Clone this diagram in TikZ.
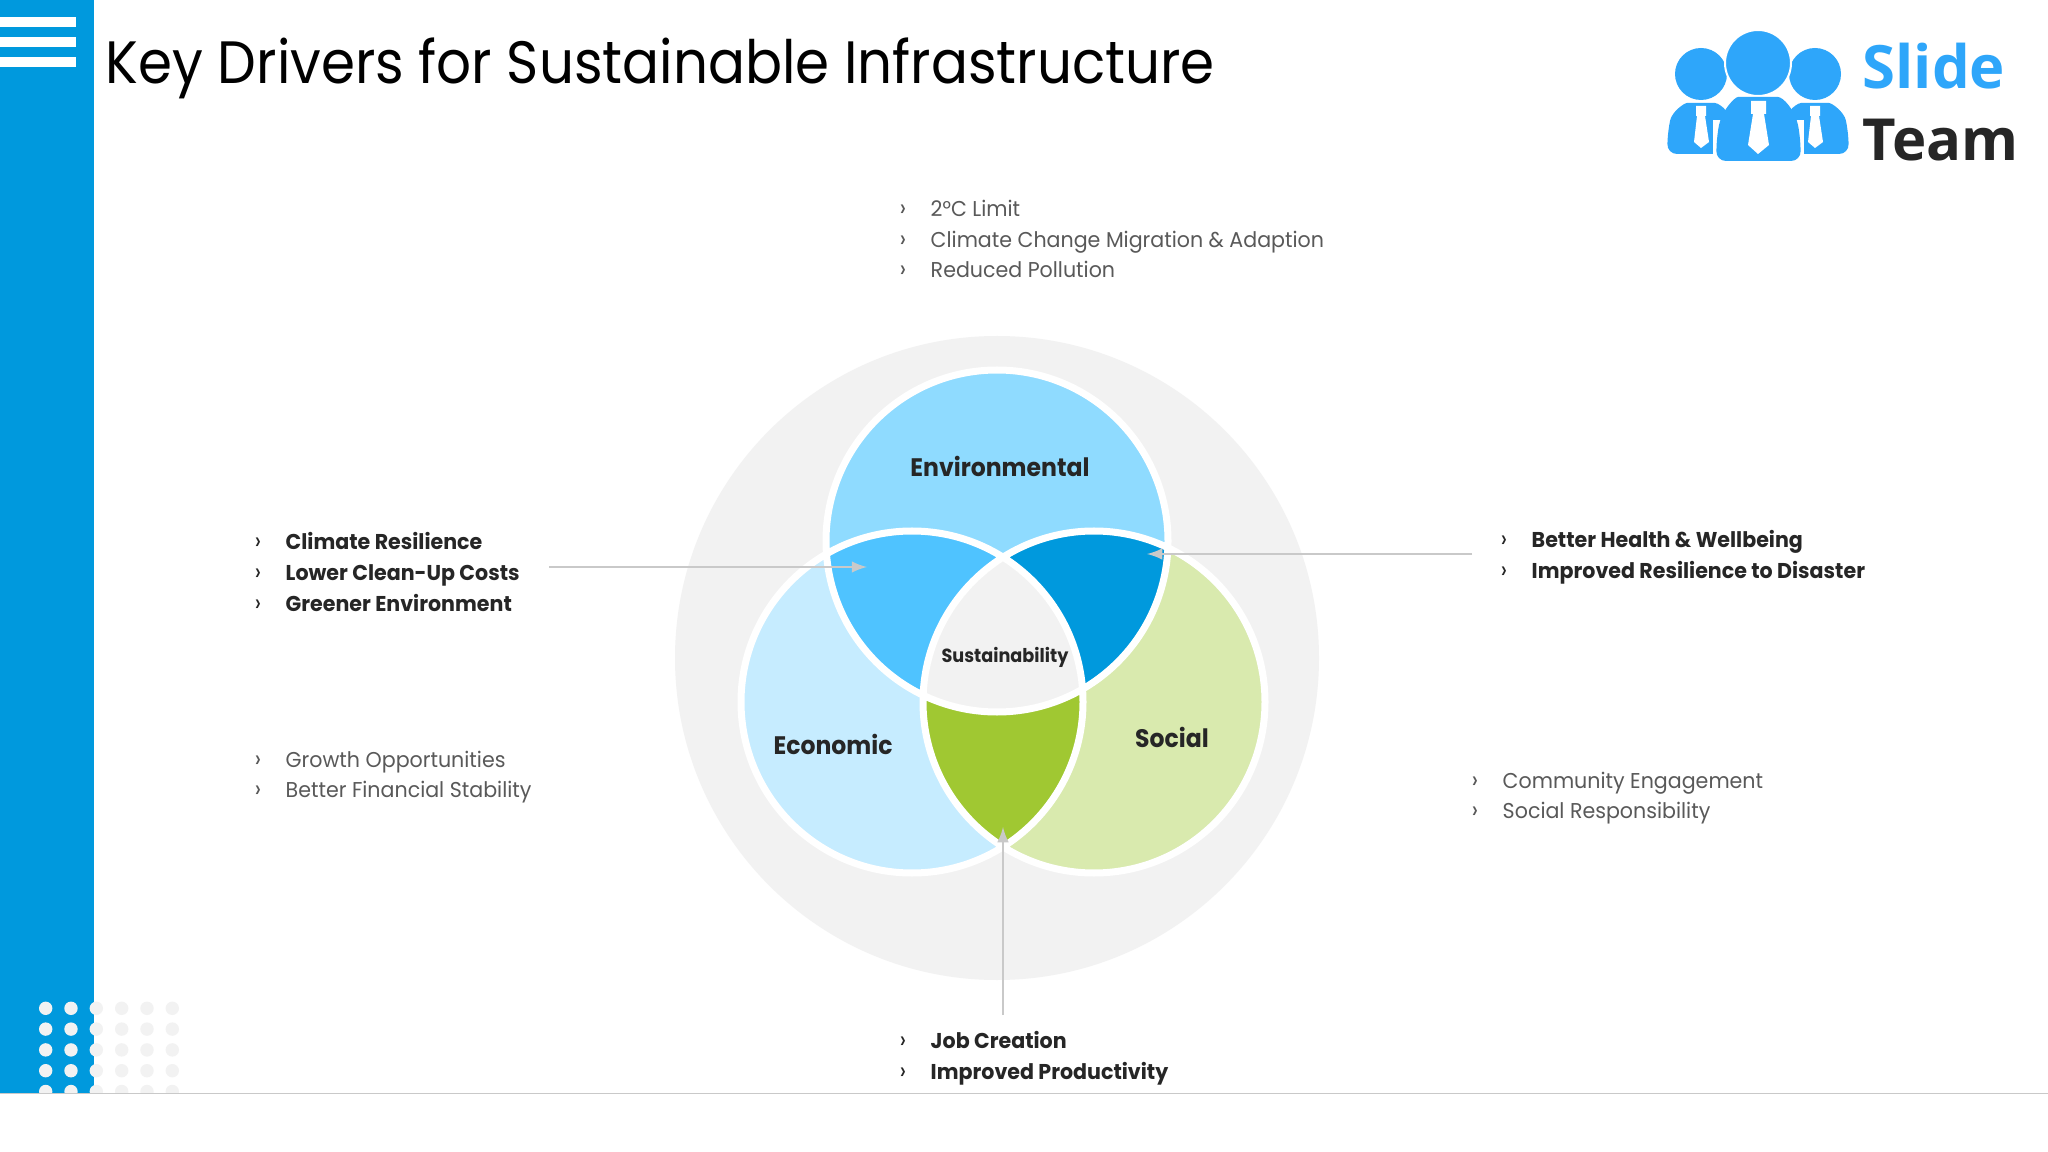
\documentclass[tikz,border=0pt]{standalone}
\usepackage{fontspec}
\setmainfont[FakeStretch=0.96]{Poppins}
\newfontfamily\titlefont[FakeStretch=0.916]{Poppins}
\newfontfamily\setfont[FakeStretch=0.93]{Poppins}
\newfontfamily\logofont{Open Sans}
\usetikzlibrary{arrows}

\definecolor{sideblue}{HTML}{0099DD}
\definecolor{envblue}{HTML}{8FDBFF}
\definecolor{ecoblue}{HTML}{C6ECFF}
\definecolor{socgreen}{HTML}{D9EAAE}
\definecolor{midblue}{HTML}{4FC3FF}
\definecolor{midgreen}{HTML}{A0C832}
\definecolor{softgray}{HTML}{F2F2F2}
\definecolor{linegray}{HTML}{C9C9C9}
\definecolor{logoblue}{HTML}{2EA6FA}

\newcommand{\itm}[1]{\makebox[0.32cm][l]{\hspace{0.01cm}\normalfont\fontsize{7pt}{8.73pt}\selectfont›}#1}

\begin{document}
\begin{tikzpicture}[x=0.01cm,y=-0.01cm,>=latex,
      list node/.style={anchor=west,inner sep=0pt,align=left,text=black!65,
        font=\fontsize{6.1pt}{8.73pt}\selectfont},
      bold node/.style={list node,text=black!85,font=\fontsize{6.1pt}{8.73pt}\selectfont\bfseries},
      set node/.style={inner sep=0pt,text=black!85,font=\setfont\fontsize{7.2pt}{9pt}\selectfont\bfseries},
      pointer/.style={->,draw=linegray,line width=0.018cm},
      ring/.style={draw=white,line width=0.07cm}]

      \useasboundingbox (0,0) rectangle (2048,1152);
      \fill[white] (0,0) rectangle (2048,1152);

      % side bar
      \fill[sideblue] (0,0) rectangle (94,1093);
      \foreach \y in {17,37,57}
        \fill[white] (0,\y) rectangle (76,\y+10);
      \begin{scope}
        \clip (0,900) rectangle (300,1093);
        \foreach \x in {45.7,71,96.3,121.7,147,172.3}
          \foreach \y in {1008.3,1029.1,1049.9,1070.7,1091.5}
            \fill[softgray] (\x,\y) circle (6.7);
      \end{scope}
      \draw[linegray,line width=0.012cm] (0,1093.5) -- (2048,1093.5);

      \node[anchor=base west,inner sep=0pt,font=\titlefont\fontsize{17pt}{20pt}\selectfont] (title)
        at (105,84) {Key Drivers for Sustainable Infrastructure};

      % logo
      \fill[logoblue] (1701,74) circle (26) (1815,74) circle (26);
      \fill[logoblue,rounded corners=0.1cm] (1667,154) -- (1668,130) .. controls (1672,112) and (1684,103) .. (1697,103)
        -- (1705,103) .. controls (1718,103) and (1724,108) .. (1730,118) -- (1730,154) -- cycle;
      \fill[logoblue,rounded corners=0.1cm] (1849,154) -- (1848,130) .. controls (1844,112) and (1832,103) .. (1819,103)
        -- (1811,103) .. controls (1798,103) and (1792,108) .. (1786,118) -- (1786,154) -- cycle;
      \fill[white] (1696,106) rectangle (1706,116) (1697,116) -- (1705,116) -- (1709,142) -- (1701,148) -- (1694,142) -- cycle;
      \fill[white] (1810,106) rectangle (1820,116) (1811,116) -- (1819,116) -- (1823,142) -- (1815,148) -- (1808,142) -- cycle;
      \draw[white,fill=logoblue,line width=0.02cm] (1758,63) circle (33);
      \fill[white] (1713,163) rectangle (1804,120);
      \fill[logoblue,rounded corners=0.1cm] (1716,161) -- (1717,135) .. controls (1722,110) and (1735,97) .. (1748,97)
        -- (1768,97) .. controls (1783,97) and (1795,110) .. (1800,135) -- (1801,161) -- cycle;
      \fill[white] (1751,101) rectangle (1766,114) (1753,114) -- (1764,114) -- (1769,145) -- (1758,154) -- (1748,145) -- cycle;
      \node[anchor=base west,inner sep=0pt,text=logoblue,font=\logofont\fontsize{17pt}{20pt}\selectfont\bfseries] (slide)
        at (1862,89) {Slide};
      \node[anchor=base west,inner sep=0pt,text=black!85,font=\logofont\fontsize{16.5pt}{20pt}\selectfont\bfseries] (team)
        at (1862,161) {Team};

      % venn
      \coordinate (env) at (997,541);
      \coordinate (eco) at (912,702);
      \coordinate (soc) at (1094,702);
      \fill[softgray] (997,658) circle (322);
      \fill[envblue] (env) circle (168);
      \fill[ecoblue] (eco) circle (168);
      \fill[socgreen] (soc) circle (168);
      \begin{scope}
        \clip (env) circle (168);
        \fill[midblue] (eco) circle (168);
        \fill[sideblue] (soc) circle (168);
      \end{scope}
      \begin{scope}
        \clip (eco) circle (168);
        \fill[midgreen] (soc) circle (168);
        \clip (soc) circle (168);
        \fill[softgray] (env) circle (168);
      \end{scope}
      \draw[ring] (env) circle (171) (eco) circle (171) (soc) circle (171);

      \node[set node] (environmental) at (1000,466) {Environmental};
      \node[set node] (economic) at (833,744) {Economic};
      \node[set node] (social) at (1172,737) {Social};
      \node[set node,font=\setfont\fontsize{5.4pt}{7pt}\selectfont\bfseries] (sustainability) at (1005,657) {Sustainability};

      % lists
      \node[list node] (toplist) at (898,239) {\itm{2°C Limit}\\\itm{Climate Change Migration \& Adaption}\\\itm{Reduced Pollution}};
      \node[bold node] (leftlist) at (253,572) {\itm{Climate Resilience}\\\itm{Lower Clean-Up Costs}\\\itm{Greener Environment}};
      \node[list node] (growthlist) at (253,777) {\itm{Growth Opportunities}\\\itm{Better Financial Stability}};
      \node[bold node] (rightlist) at (1499,557) {\itm{Better Health \& Wellbeing}\\\itm{Improved Resilience to Disaster}};
      \node[list node] (communitylist) at (1470,798) {\itm{Community Engagement}\\\itm{Social Responsibility}};
      \node[bold node] (bottomlist) at (898,1058) {\itm{Job Creation}\\\itm{Improved Productivity}};

      \coordinate (leftstart) at (549,567);
      \coordinate (lefttip) at (867,567);
      \coordinate (rightstart) at (1472,554);
      \coordinate (righttip) at (1147,554);
      \coordinate (bottomstart) at (1003,1015);
      \coordinate (bottomtip) at (1003,827);
      \draw[pointer] (leftstart) -- (lefttip);
      \draw[pointer] (rightstart) -- (righttip);
      \draw[pointer] (bottomstart) -- (bottomtip);
    \end{tikzpicture}
\end{document}
